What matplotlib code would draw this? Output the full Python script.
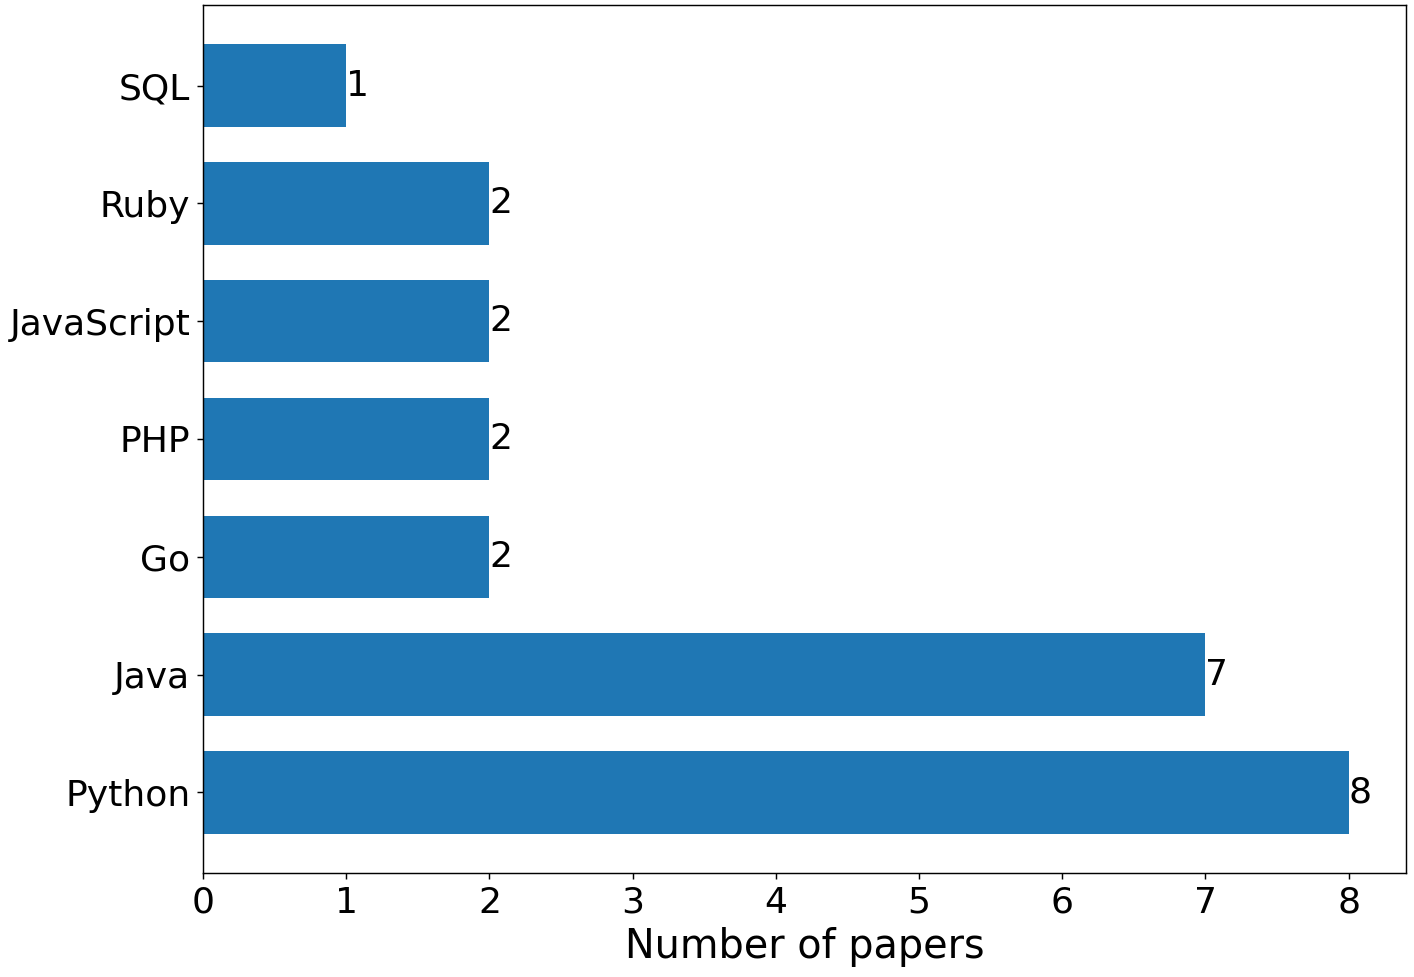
import matplotlib
matplotlib.use("Agg")
import matplotlib.pyplot as plt

languages = ["Python", "Java", "Go", "PHP", "JavaScript", "Ruby", "SQL"]
papers = [8, 7, 2, 2, 2, 2, 1]

dpi = 130
fig = plt.figure(figsize=(1414 / dpi, 977 / dpi), dpi=dpi)
ax = fig.add_axes([203 / 1414, 104 / 977, (1406 - 203) / 1414, (972 - 104) / 977])

bars = ax.barh(languages, papers, height=0.7, color="#1f77b4")
for bar, val in zip(bars, papers):
    ax.text(bar.get_width(), bar.get_y() + bar.get_height() / 2, str(val),
            va="center", ha="left", fontsize=20)

ax.tick_params(axis="both", labelsize=20)
ax.set_xlabel("Number of papers", fontsize=22)

fig.savefig("out.png", dpi=dpi)
